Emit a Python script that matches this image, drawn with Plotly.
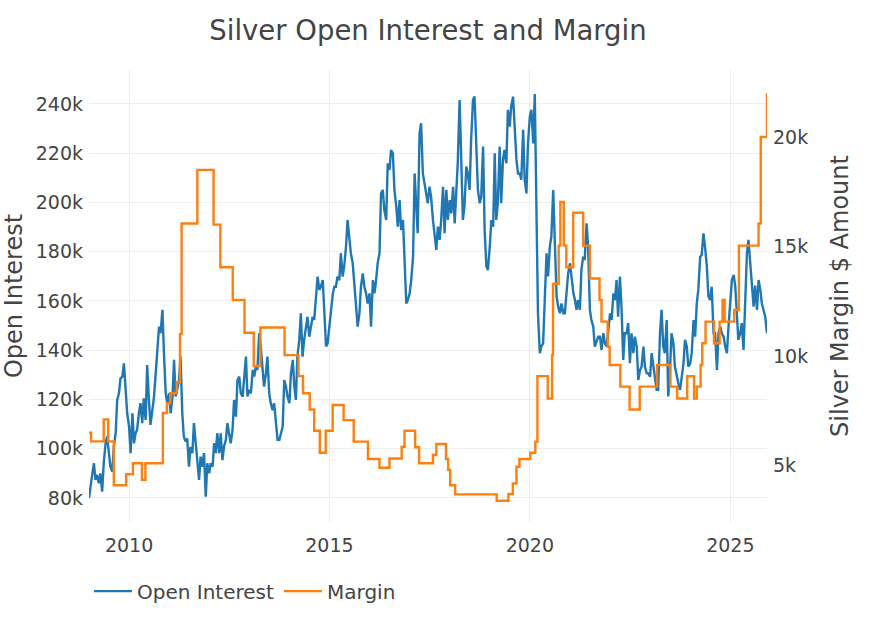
import pandas as pd
import plotly.graph_objects as go

# Open interest, semi-monthly observations (thousands of contracts), Jan 2009 .. Dec 2025
oi_k = [
    80, 85.3, 90, 94.1, 87.3, 89.4, 86, 90, 82.6, 94,
    102.2, 105, 96.8, 92.7, 90.7, 100.8, 106.3, 119.8, 122.5, 128.6,
    129.3, 134.7, 123.9, 114.4, 109, 98.2, 114.4, 102.2, 106.3, 107.6,
    114.4, 118.5, 110.4, 120.5, 111.7, 134, 119.8, 109.7, 115.7, 120.5,
    130.6, 141.5, 149.6, 146.9, 156.4, 138.8, 122.5, 118.5, 122.5, 114.4,
    121.2, 136.1, 121.2, 123.9, 127.9, 137.4, 114.4, 104.9, 102.9, 104.2,
    92.7, 100.8, 98.2, 110.4, 100.8, 94.1, 87.3, 96.8, 92.7, 98.2,
    80.5, 94.1, 90, 94.1, 92.7, 102.2, 98.2, 106.3, 98.2, 106.3,
    95.4, 100.8, 103.6, 110.4, 104.9, 102.2, 107.6, 119.8, 113, 127.9,
    129.3, 122.5, 121.2, 130.6, 137.4, 121.2, 123.9, 122.5, 132, 129.3,
    133.3, 132, 146.9, 141.5, 133.3, 125.2, 130.6, 137.4, 122.5, 118.5,
    115.7, 118.5, 110.4, 103.6, 103.6, 106.3, 109, 127.9, 125.2, 121.2,
    118.5, 130.6, 136.1, 125.2, 119.8, 137.4, 144.2, 155, 137.4, 144.2,
    149.6, 153.6, 145.5, 149.6, 153.6, 152.3, 161.8, 169.9, 164.5, 165.8,
    168.5, 155, 141.5, 142.8, 149.6, 157.7, 163.1, 165.8, 165.8, 169.9,
    168.5, 179.4, 169.9, 174, 182.1, 192.9, 184.8, 179.4, 175.3, 167.2,
    156.4, 149.6, 155, 165.8, 171.2, 165.8, 163.1, 159, 163.1, 149.6,
    168.5, 163.1, 168.5, 175.3, 179.4, 203.7, 205.1, 197, 192.9, 215.9,
    213.2, 221.3, 220, 205.1, 198.3, 190.2, 201, 188.8, 192.9, 174,
    159, 160.4, 163.1, 168.5, 178, 211.8, 198.3, 187.5, 228.1, 232.2,
    211.8, 207.8, 202.4, 199.7, 206.4, 202.4, 192.9, 186.1, 180.7, 190.2,
    184.8, 192.9, 206.4, 187.5, 205.1, 192.9, 201, 195.6, 206.4, 191.5,
    205.1, 215.9, 241.6, 215.9, 192.9, 198.3, 214.6, 211.8, 205.1, 225.4,
    241.6, 243, 222.7, 205.1, 199.7, 202.4, 222.7, 188.8, 174, 172.6,
    182.1, 192.9, 190.2, 220, 192.9, 199.7, 222.7, 199.7, 217.3, 221.3,
    215.9, 237.6, 230.8, 238.9, 243, 232.2, 217.3, 211.8, 211.8, 209.2,
    229.5, 209.2, 203.7, 224, 234.9, 237.6, 224, 244, 193, 155,
    138.8, 141.5, 142.8, 163.1, 179.4, 170, 182.1, 186.1, 205.1, 184.8,
    161.8, 157.7, 155, 159, 155, 155, 165.8, 171.2, 175.3, 168.5,
    163.1, 160.4, 156.4, 160.4, 156.4, 172.6, 178, 176.7, 191.5, 182.1,
    156.4, 152.3, 149.6, 141.5, 144.2, 145.5, 145.5, 140.1, 146.9, 142.8,
    141.5, 146.9, 155, 152.3, 163.1, 160.4, 168.5, 153.6, 169.9, 157.7,
    136.1, 146.9, 146.9, 151, 134.7, 146.9, 138.8, 145.5, 141.5, 127.9,
    132, 133.3, 141.5, 133.3, 130.6, 130.6, 129.3, 138.8, 133.3, 127.9,
    123.9, 123.9, 146.9, 156.4, 141.5, 138.8, 152.3, 121.2, 132, 146.9,
    142.8, 133.3, 129.3, 126.6, 123.9, 127.9, 134.7, 144.2, 141.5, 133.3,
    134.7, 138.8, 152.3, 145.5, 159, 164.5, 178, 178.7, 187.5, 182.1,
    174, 161.8, 160.4, 165.8, 146.9, 146.9, 132, 146.9, 149.6, 146.9,
    145.5, 141.5, 138.8, 149.6, 161.8, 168.5, 170.6, 165.8, 155, 144.2,
    146.9, 151, 140.1, 155, 179.4, 184.8, 175.3, 164.5, 157.7, 166.3,
    156.4, 168.5, 164.5, 159, 156.4, 153.6, 146.9,
]
oi_dates = pd.date_range("2009-01-01", periods=len(oi_k), freq="SMS")
oi_values = [v * 1000 for v in oi_k]

# Silver margin ($), step changes
margin_dates = [
    "2009-01-01", "2009-01-20", "2009-05-15", "2009-06-25", "2009-08-15",
    "2009-12-05", "2010-02-05", "2010-04-28", "2010-05-30", "2010-11-05",
    "2010-12-12", "2011-01-12", "2011-03-12", "2011-04-10", "2011-04-25",
    "2011-09-15", "2012-02-10", "2012-04-12", "2012-08-03", "2012-11-18",
    "2013-02-10", "2013-04-12", "2013-11-18", "2014-03-25", "2014-05-05",
    "2014-07-05", "2014-08-15", "2014-10-05", "2014-11-28", "2015-01-30",
    "2015-05-10", "2015-08-10", "2015-12-18", "2016-04-01", "2016-07-01",
    "2016-10-20", "2016-11-15", "2017-02-20", "2017-03-28", "2017-08-01",
    "2017-09-01", "2017-11-28", "2017-12-18", "2018-01-05", "2018-02-20",
    "2019-03-05", "2019-06-20", "2019-07-30", "2019-09-01", "2019-09-28",
    "2020-01-05", "2020-02-20", "2020-03-10", "2020-06-12", "2020-07-22",
    "2020-07-30", "2020-09-20", "2020-10-05", "2020-11-05", "2020-11-28",
    "2021-01-30", "2021-05-01", "2021-07-01", "2021-09-27", "2021-10-15",
    "2021-12-10", "2021-12-28", "2022-04-05", "2022-06-28", "2022-09-28",
    "2023-03-05", "2023-07-05", "2023-09-05", "2023-12-05", "2024-02-05",
    "2024-03-01", "2024-04-05", "2024-04-20", "2024-05-20", "2024-08-05",
    "2024-09-25", "2024-10-22", "2024-11-10", "2025-02-05", "2025-03-20",
    "2025-09-15", "2025-10-05", "2025-12-01",
]
margin_values = [
    6500, 6100, 7100, 6100, 4100,
    4600, 5100, 4350, 5100, 7400,
    7850, 8300, 8800, 11000, 16050,
    18500, 16000, 14050, 12560, 11060,
    9540, 11300, 10040, 9080, 8300,
    7560, 6590, 5580, 6590, 7760,
    7070, 6090, 5300, 4900, 5320,
    5850, 6590, 5830, 5100, 5480,
    5980, 5300, 4800, 4100, 3680,
    3390, 3700, 4180, 4940, 5300,
    5580, 6090, 9080, 8060, 10040,
    13300, 15040, 17040, 15040, 14050,
    16540, 15040, 13540, 12560, 11570,
    10420, 9590, 8600, 7560, 8600,
    9590, 8600, 8060, 9080, 8060,
    8600, 9590, 10580, 11570, 10580,
    11570, 12560, 11570, 12100, 15040,
    16050, 20000, 22000,
]

FONT = "Verdana, DejaVu Sans, sans-serif"
TXT = "#444444"

fig = go.Figure()
fig.add_trace(go.Scatter(
    x=oi_dates, y=oi_values, name="Open Interest", mode="lines",
    line=dict(color="#1f77b4", width=2.4),
))
fig.add_trace(go.Scatter(
    x=margin_dates, y=margin_values, name="Margin", mode="lines",
    line=dict(color="#ff7f0e", width=2.4, shape="hv"), yaxis="y2",
))

fig.update_layout(
    width=871, height=620,
    margin=dict(l=89, r=104, t=70, b=98, autoexpand=False),
    paper_bgcolor="white", plot_bgcolor="white",
    font=dict(family=FONT, color=TXT, size=19),
    title=dict(text="Silver Open Interest and Margin", x=0.5, xref="paper",
               xanchor="center", y=1 - 30 / 620, yref="container", yanchor="middle",
               font=dict(size=27.5, color=TXT)),
    xaxis=dict(range=["2009-01-01", "2025-12-01"], dtick="M60", tick0="2010-01-01",
               tickformat="%Y", showgrid=True, gridcolor="#eeeeee", zeroline=False,
               showline=False, ticks="", ticklabelstandoff=10, automargin=False),
    yaxis=dict(range=[70250, 253800], dtick=20000, tick0=0, showgrid=True,
               gridcolor="#eeeeee", zeroline=False, showline=False, ticks="",
               ticklabelstandoff=5, automargin=False,
               title=dict(text="Open Interest", font=dict(size=24))),
    yaxis2=dict(range=[2420, 23060], dtick=5000, tick0=0, overlaying="y", side="right",
                showgrid=False, zeroline=False, showline=False, ticks="",
                ticklabelstandoff=5, automargin=False,
                title=dict(text="Silver Margin $ Amount", font=dict(size=24), standoff=24)),
    legend=dict(orientation="h", x=0, xanchor="left", y=-0.153, yanchor="middle",
                font=dict(size=20), itemwidth=38, bgcolor="rgba(0,0,0,0)"),
)

fig.write_html("out.html")
